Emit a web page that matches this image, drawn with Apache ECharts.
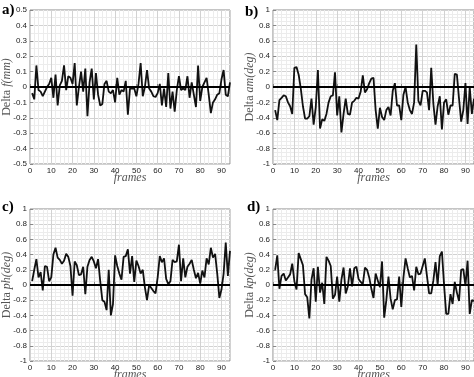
<!DOCTYPE html>
<html>
<head>
<meta charset="utf-8">
<script src="https://cdn.jsdelivr.net/npm/echarts@6/dist/echarts.min.js"></script>
<style>
html, body { margin: 0; padding: 0; background: #fff; }
#chart { width: 474px; height: 377px; }
</style>
</head>
<body>
<div id="chart"></div>
<script>
// frame numbers
var frames = [];
for (var i = 1; i <= 94; i++) frames.push(i);

// a) Delta f (mm)
var deltaF = [-0.04, -0.08, 0.14, -0.02, -0.03, -0.06, -0.03, 0.0, 0.02, 0.06,
	-0.07, 0.08, -0.12, 0.01, 0.04, 0.14, -0.02, 0.07, 0.06, 0.02,
	0.155, -0.12, 0.0, 0.10, -0.03, 0.12, -0.19, 0.03, 0.12, -0.08,
	0.09, -0.05, -0.12, -0.11, 0.02, 0.04, -0.03, -0.04, -0.02, -0.10,
	0.06, -0.05, -0.02, -0.03, 0.04, -0.18, -0.01, -0.01, -0.01, -0.06,
	0.02, 0.155, -0.06, 0.0, 0.11, -0.01, -0.03, -0.06, -0.065, -0.04,
	0.02, -0.12, -0.01, -0.13, 0.09, -0.14, -0.03, -0.16, -0.02, 0.07,
	-0.02, -0.01, -0.02, 0.07, -0.07, 0.03, -0.05, -0.13, 0.14, -0.09,
	0.0, 0.03, 0.06, -0.05, -0.17, -0.10, -0.08, -0.05, -0.04, 0.05,
	0.11, -0.05, -0.06, 0.03];

// b) Delta am (deg)
var deltaAm = [-0.30, -0.43, -0.17, -0.14, -0.11, -0.12, -0.20, -0.25, -0.35, 0.25,
	0.26, 0.16, -0.02, -0.25, -0.41, -0.41, -0.38, -0.15, -0.49, -0.26,
	0.22, -0.54, -0.42, -0.44, -0.35, -0.20, -0.12, -0.11, 0.19, -0.37,
	-0.12, -0.59, -0.35, -0.15, -0.35, -0.36, -0.20, -0.18, -0.14, -0.15,
	-0.06, 0.15, -0.07, -0.03, 0.05, 0.11, 0.12, -0.30, -0.54, -0.27,
	-0.39, -0.43, -0.30, -0.26, -0.37, -0.05, 0.05, -0.24, -0.24, -0.43,
	-0.10, 0.00, -0.20, -0.30, -0.35, -0.20, 0.55, -0.18, -0.24, -0.05,
	-0.05, -0.07, -0.30, 0.25, -0.22, -0.49, -0.25, -0.12, -0.55, -0.20,
	-0.16, -0.36, -0.24, -0.24, 0.17, 0.16, -0.15, -0.45, -0.30, 0.05,
	-0.48, 0.00, -0.35, -0.15];

// c) Delta ph (deg)
var deltaPh = [0.05, 0.20, 0.34, 0.10, 0.17, -0.07, 0.25, 0.24, 0.05, 0.10,
	0.40, 0.49, 0.36, 0.33, 0.28, 0.32, 0.41, 0.37, 0.25, -0.14,
	0.31, 0.26, 0.13, 0.14, 0.24, -0.12, 0.24, 0.33, 0.37, 0.31,
	0.22, 0.34, 0.05, -0.20, -0.22, -0.33, 0.20, -0.40, -0.25, 0.39,
	0.25, 0.15, 0.07, 0.37, 0.38, 0.47, 0.15, 0.38, 0.04, 0.32,
	0.25, 0.15, 0.20, -0.03, -0.20, 0.00, -0.04, -0.08, -0.11, 0.10,
	0.38, 0.30, 0.35, 0.08, 0.01, 0.05, 0.33, 0.30, 0.31, 0.53,
	0.05, 0.35, 0.10, 0.24, 0.28, 0.33, 0.20, 0.09, 0.16, 0.02,
	0.19, 0.10, 0.35, 0.27, 0.49, 0.36, 0.41, 0.15, -0.17, -0.06,
	0.15, 0.56, 0.12, 0.45];

// d) Delta kp (deg)
var deltaKp = [0.20, 0.39, -0.05, 0.12, 0.15, 0.06, 0.10, 0.14, 0.28, 0.05,
	-0.06, 0.42, 0.34, 0.26, -0.12, -0.16, -0.44, 0.07, 0.22, -0.22,
	0.24, -0.10, 0.03, -0.25, 0.37, 0.32, 0.25, -0.18, -0.13, 0.11,
	-0.22, 0.07, 0.23, -0.11, -0.02, 0.22, -0.02, 0.22, 0.24, 0.08,
	0.04, 0.01, 0.23, 0.20, 0.10, -0.05, -0.17, 0.15, 0.06, -0.03,
	0.31, -0.43, -0.20, 0.11, -0.18, -0.32, -0.20, -0.19, 0.11, -0.29,
	0.10, 0.35, 0.22, 0.10, 0.12, -0.07, 0.24, 0.14, 0.15, 0.25,
	0.35, 0.12, -0.11, -0.11, 0.06, 0.30, 0.00, 0.38, 0.44, 0.00,
	-0.38, -0.38, -0.12, -0.25, 0.04, -0.10, -0.21, 0.20, 0.21, -0.01,
	0.32, -0.38, -0.20, -0.21];

var panelLabels = ['a)', 'b)', 'c)', 'd)'];
var yNames = ['f(mm)', 'am(deg)', 'ph(deg)', 'kp(deg)'];
var yRanges = [[-0.5, 0.5, 0.1], [-1, 1, 0.2], [-1, 1, 0.2], [-1, 1, 0.2]];
var seriesData = [deltaF, deltaAm, deltaPh, deltaKp];

// 图表布局
var boxes = [
	{left: 30, top: 10, width: 200, height: 154},
	{left: 273, top: 10, width: 201, height: 154},
	{left: 30, top: 209, width: 200, height: 152},
	{left: 273, top: 209, width: 201, height: 152}
];
var labelPos = [[2, 3], [245, 5], [2, 200], [247, 200]];

var serif = '"Liberation Serif", "DejaVu Serif", serif';
var sans = '"Liberation Sans", "DejaVu Sans", sans-serif';

var grid = [], xAxis = [], yAxis = [], series = [], title = [];

for (var i = 0; i < 4; i++) {
	grid.push({
		left: boxes[i].left,
		top: boxes[i].top,
		width: boxes[i].width,
		height: boxes[i].height,
		outerBoundsMode: 'none',
		show: true,
		backgroundColor: '#fff',
		borderColor: '#8a8a8a',
		borderWidth: 1
	});
	xAxis.push({
		gridIndex: i,
		type: 'value',
		min: 0,
		max: 94,
		interval: 10,
		name: 'frames',
		nameLocation: 'middle',
		nameGap: 8,
		nameMoveOverlap: false,
		nameTextStyle: {fontFamily: serif, fontStyle: 'italic', fontSize: 12, color: '#555'},
		axisLine: {show: false},
		axisTick: {show: true, inside: true, length: 3, lineStyle: {color: '#888'}},
		axisLabel: {fontFamily: sans, fontSize: 8, color: '#222', margin: 3, showMaxLabel: false},
		splitLine: {show: true, lineStyle: {color: '#d2d2d2', width: 1}},
		minorTick: {show: false, splitNumber: 5},
		minorSplitLine: {show: true, lineStyle: {color: '#ececec', width: 1}}
	});
	yAxis.push({
		gridIndex: i,
		type: 'value',
		min: yRanges[i][0],
		max: yRanges[i][1],
		interval: yRanges[i][2],
		name: '{u|Delta }{i|' + yNames[i] + '}',
		nameLocation: 'middle',
		nameGap: 17,
		nameMoveOverlap: false,
		nameTextStyle: {
			color: '#555',
			rich: {
				u: {fontFamily: serif, fontSize: 12, color: '#555'},
				i: {fontFamily: serif, fontSize: 12, fontStyle: 'italic', color: '#555'}
			}
		},
		axisLine: {show: false},
		axisTick: {show: true, inside: true, length: 3, lineStyle: {color: '#888'}},
		axisLabel: {fontFamily: sans, fontSize: 8, color: '#222', margin: 3},
		splitLine: {show: true, lineStyle: {color: '#d2d2d2', width: 1}},
		minorTick: {show: false, splitNumber: i == 0 ? 2 : 4},
		minorSplitLine: {show: true, lineStyle: {color: '#ececec', width: 1}}
	});
	var pts = [];
	for (var j = 0; j < frames.length; j++) {
		pts.push([frames[j], seriesData[i][j]]);
	}
	series.push({
		type: 'line',
		xAxisIndex: i,
		yAxisIndex: i,
		data: pts,
		showSymbol: false,
		lineStyle: {color: '#111', width: 1.8},
		markLine: {
			silent: true,
			symbol: 'none',
			label: {show: false},
			lineStyle: {color: '#000', width: 2, type: 'solid'},
			data: [{yAxis: 0}]
		}
	});
	title.push({
		text: panelLabels[i],
		left: labelPos[i][0],
		top: labelPos[i][1],
		padding: 0,
		textStyle: {fontFamily: serif, fontWeight: 'bold', fontSize: 15, color: '#000'}
	});
}

var chart = echarts.init(document.getElementById('chart'));
chart.setOption({
	animation: false,
	backgroundColor: '#fff',
	title: title,
	grid: grid,
	xAxis: xAxis,
	yAxis: yAxis,
	series: series
});
</script>
</body>
</html>
